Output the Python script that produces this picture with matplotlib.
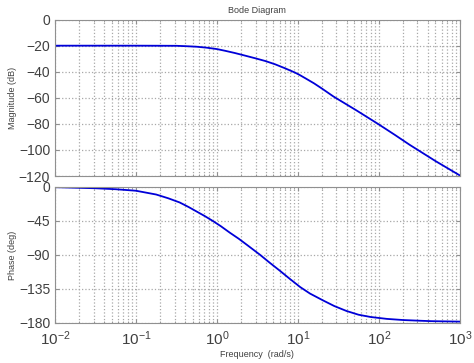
# Bode diagram: magnitude and phase vs frequency

import numpy as np
import matplotlib.pyplot as plt
from matplotlib.ticker import LogLocator, NullFormatter


# Magnitude curve (log10 of rad/s, dB)
mag_logw = [-2.0, -1.5, -1.0, -0.5, -0.38, -0.25, -0.13, 0.0, 0.1, 0.22, 0.34, 0.47, 0.6,
            0.72, 0.84, 0.96, 1.02, 1.09, 1.2, 1.3, 1.44, 1.72, 1.99, 2.2, 2.38, 2.7, 3.0]
mag_db = [-20.0, -20.0, -20.0, -20.1, -20.4, -20.8, -21.5, -22.6, -23.9, -25.6, -27.5, -29.6, -31.8,
          -34.3, -37.3, -40.5, -42.4, -44.9, -48.9, -53.0, -59.0, -69.5, -80.0, -88.5, -96.0, -108.5, -119.5]

# Phase curve (log10 of rad/s, deg)
phase_logw = [-2.0, -1.5, -1.25, -1.0, -0.75, -0.6, -0.46, -0.35, -0.25, -0.15, -0.05, 0.05, 0.16,
              0.27, 0.37, 0.45, 0.53, 0.65, 0.78, 0.9, 1.03, 1.15, 1.31, 1.45, 1.6, 1.75, 1.9,
              2.1, 2.3, 2.5, 2.65, 3.0]
phase_deg = [-0.8, -2.2, -3.5, -5.5, -10.5, -15.5, -21.0, -27.0, -33.0, -39.0, -45.5, -52.5, -61.0,
             -69.0, -77.0, -83.5, -90.0, -100.5, -111.5, -122.0, -133.0, -141.5, -150.5, -158.0, -164.5,
             -169.5, -172.5, -175.0, -176.5, -177.4, -178.0, -178.6]

mag_yticks = [0, -20, -40, -60, -80, -100, -120]
phase_yticks = [0, -45, -90, -135, -180]

line_color = "#0000d8"
grid_color = "#a8a8a8"
text_color = "#404040"
edge_color = "#909090"

plt.rcParams["font.family"] = ["Liberation Sans", "DejaVu Sans"]

fig = plt.figure(figsize=(4.74, 3.63), dpi=100)
ax_mag = fig.add_axes([0.116, 0.515, 0.854, 0.431])
ax_ph = fig.add_axes([0.116, 0.109, 0.854, 0.377])

ax_mag.plot(10 ** np.array(mag_logw), mag_db, color=line_color, linewidth=1.3)
ax_ph.plot(10 ** np.array(phase_logw), phase_deg, color=line_color, linewidth=1.3)

for ax in (ax_mag, ax_ph):
    ax.set_xscale("log")
    ax.set_xlim(1e-2, 1e3)
    ax.xaxis.set_major_locator(LogLocator(base=10, numticks=10))
    ax.xaxis.set_minor_locator(LogLocator(base=10, subs=np.arange(2, 10), numticks=100))
    ax.xaxis.set_minor_formatter(NullFormatter())
    ax.grid(True, which="major", color=grid_color, linestyle=":", linewidth=0.9)
    ax.grid(True, which="minor", axis="x", color=grid_color, linestyle=":", linewidth=0.9)
    ax.tick_params(which="both", direction="in", color=edge_color, labelcolor=text_color,
                   labelsize=10, length=3, top=True, right=True)
    ax.tick_params(which="minor", length=1.5)
    for sp in ax.spines.values():
        sp.set_color(edge_color)
        sp.set_linewidth(0.8)

ax_mag.set_ylim(-120, 0)
ax_mag.set_yticks(mag_yticks)
ax_mag.tick_params(labelbottom=False)
ax_mag.set_ylabel("Magnitude (dB)", fontsize=6.5, color=text_color, labelpad=1)
ax_mag.set_title("Bode Diagram", fontsize=6.5, color=text_color, pad=5)

ax_ph.set_ylim(-181, 0)
ax_ph.set_yticks(phase_yticks)
ax_ph.tick_params(axis="x", labelsize=11, pad=4)
ax_ph.set_ylabel("Phase (deg)", fontsize=6.5, color=text_color, labelpad=1)
ax_ph.set_xlabel("Frequency  (rad/s)", fontsize=6.5, color=text_color, labelpad=2)

fig.savefig("out.png", dpi=100)
